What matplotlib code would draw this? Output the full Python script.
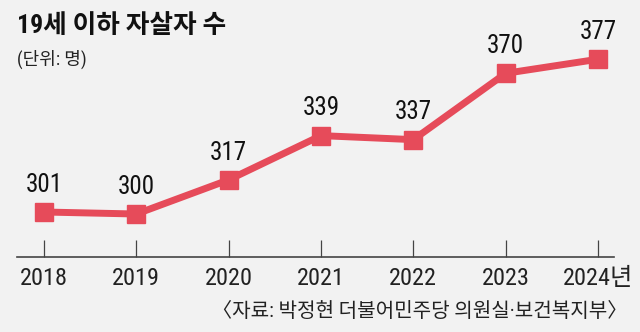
import matplotlib
matplotlib.use("Agg")
import matplotlib.pyplot as plt

years = [2018, 2019, 2020, 2021, 2022, 2023, 2024]
tick_labels = ["2018", "2019", "2020", "2021", "2022", "2023", "2024년"]
values = [301, 300, 317, 339, 337, 370, 377]

title = "19세 이하 자살자 수"
unit = "(단위: 명)"
source = "〈자료: 박정현 더불어민주당 의원실·보건복지부〉"

BG = "#f2f2f2"
RED = "#e64b5a"
DARK = "#222222"
NUM_FONT = ["Roboto Condensed", "Noto Sans CJK KR", "DejaVu Sans"]
KR_FONT = ["Roboto Condensed", "Noto Sans CJK KR", "DejaVu Sans"]

fig = plt.figure(figsize=(6.4, 3.32), dpi=100, facecolor=BG)
ax = fig.add_axes([17/640, 1-257/332, (614-17)/640, (257-40)/332])
ax.set_facecolor(BG)

ax.plot(years, values, color=RED, lw=5, marker="s", ms=13,
        solid_joinstyle="miter", zorder=3)
for x, v in zip(years, values):
    ax.annotate(str(v), (x, v), xytext=(0, 11), textcoords="offset points",
                ha="center", va="bottom", fontsize=18, color="#111111",
                family=NUM_FONT)

ax.set_xlim(2018 - 27/92.33, 2024 + 16/92.33)
ax.set_ylim(301 - 45/2.01, 301 + 172/2.01)

for s in ["top", "right", "left"]:
    ax.spines[s].set_visible(False)
ax.spines["bottom"].set_color("#444444")
ax.spines["bottom"].set_linewidth(1.2)
ax.set_yticks([])
ax.set_xticks(years)
ax.set_xticklabels(tick_labels, family=NUM_FONT, fontsize=17.5, color=DARK)
ax.tick_params(axis="x", direction="in", length=12.5, width=0.9,
               color="#444444", pad=7)

fig.text(17/640, 1-14/332, title, ha="left", va="top", fontsize=18.5,
         fontweight="bold", color="#111111", family=KR_FONT)
fig.text(17/640, 1-50/332, unit, ha="left", va="top", fontsize=13,
         color="#222222", family=KR_FONT)
fig.text(627/640, 1-311/332, source, ha="right", va="center", fontsize=14.5,
         color="#222222", family=KR_FONT)

fig.savefig("out.png", dpi=100, facecolor=BG)
